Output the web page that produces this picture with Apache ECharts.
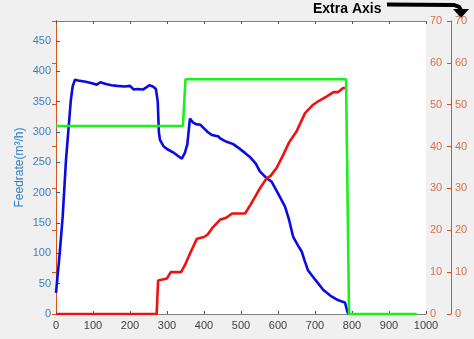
<!DOCTYPE html>
<html>
<head>
<meta charset="utf-8">
<script src="https://cdn.jsdelivr.net/npm/echarts@6/dist/echarts.min.js"></script>
<style>
html,body{margin:0;padding:0;background:#F0F0F0;}
#c{width:474px;height:339px;}
</style>
</head>
<body>
<div id="c"></div>
<script>
// x-axis ticks
var xTicks = [0, 100, 200, 300, 400, 500, 600, 700, 800, 900, 1000];

// Blue: Feedrate (left axis)
var blueX = [0, 10, 18, 27, 40, 45, 51, 60, 80, 100, 110, 120, 135, 150, 165, 185, 200, 210, 220, 235, 245, 252, 262, 270, 275, 278, 281, 290, 300, 320, 340, 348, 355, 362, 370, 378, 390, 400, 410, 421, 430, 438, 445, 457, 465, 479, 495, 510, 524, 540, 551, 569, 583, 600, 619, 630, 641, 655, 664, 672, 681, 700, 722, 742, 762, 775, 781, 787, 790];
var blueY = [35, 100, 160, 254, 352, 375, 386, 385, 383, 380, 378, 382, 379, 377, 376, 375, 376, 370, 371, 370, 374, 377, 375, 371, 350, 300, 287, 277, 272, 265, 256, 265, 280, 322, 316, 313, 312, 306, 300, 295, 294, 293, 289, 285, 283, 280, 273, 266, 259, 248, 235, 224, 218, 199, 177, 155, 127, 112, 103, 88, 72, 57, 40, 30, 23, 20, 19, 5, 0];

// Green (left axis)
var greenX = [0, 343, 350, 784, 792, 975];
var greenY = [310, 310, 387, 387, 0, 0];

// Red (right axis)
var redX = [0, 272, 276, 280, 300, 310, 338, 350, 365, 381, 400, 410, 422, 443, 460, 476, 511, 525, 538, 551, 569, 580, 597, 614, 630, 650, 673, 695, 712, 732, 750, 762, 776, 785];
var redY = [0, 0, 8, 8, 8.5, 10, 10, 12, 15, 18, 18.4, 19, 20.5, 22.5, 23, 24, 24, 26, 28, 30, 32.4, 33, 35, 38, 41, 43.6, 48, 50, 51, 52, 53, 53, 54, 54];

// Axis ranges
var leftMax = 483;
var rightMax = 70;

function zip(xs, ys) { return xs.map(function (x, i) { return [x, ys[i]]; }); }

var FONT = 'Liberation Sans, Arial, sans-serif';
var BLUE_AX = '#0072BD', ORANGE = '#D95319', GRAY = '#808080';

var chart = echarts.init(document.getElementById('c'));
var rightAxis = function (offset) {
  return {
    type: 'value', position: 'right', offset: offset, min: 0, max: rightMax, interval: 10,
    axisLine: { show: true, lineStyle: { color: ORANGE, width: 1 } },
    axisTick: { show: true, inside: true, length: 4, lineStyle: { color: ORANGE } },
    axisLabel: { color: '#D9704A', fontSize: 11, fontFamily: FONT, margin: 4 },
    splitLine: { show: false }
  };
};
chart.setOption({
  backgroundColor: '#F0F0F0',
  animation: false,
  grid: { left: 56, right: 48, top: 21, bottom: 25, show: true, backgroundColor: '#FFFFFF', borderWidth: 0 },
  xAxis: [{
    type: 'value', min: xTicks[0], max: xTicks[xTicks.length - 1], interval: 100, position: 'bottom',
    axisLine: { show: true, lineStyle: { color: GRAY, width: 1 } },
    axisTick: { show: true, inside: true, length: 3, lineStyle: { color: '#555' } },
    axisLabel: { color: '#404040', fontSize: 11, fontFamily: FONT, margin: 6, formatter: function (v) { return String(v); } },
    splitLine: { show: false }
  }, {
    type: 'value', min: xTicks[0], max: xTicks[xTicks.length - 1], interval: 100, position: 'top',
    axisLine: { show: true, onZero: false, lineStyle: { color: GRAY, width: 1 } },
    axisTick: { show: true, inside: true, length: 3, lineStyle: { color: '#555' } },
    axisLabel: { show: false },
    splitLine: { show: false }
  }],
  yAxis: [{
    type: 'value', position: 'left', min: 0, max: leftMax, interval: 50,
    name: 'Feedrate(m³/h)', nameLocation: 'middle', nameGap: 30, nameMoveOverlap: false,
    nameTextStyle: { color: '#2F7EC4', fontSize: 12, fontFamily: FONT },
    axisLine: { show: true, lineStyle: { color: BLUE_AX, width: 1 } },
    axisTick: { show: true, inside: true, length: 4, lineStyle: { color: BLUE_AX } },
    axisLabel: { color: '#3A7FC1', fontSize: 11, fontFamily: FONT, margin: 5, showMaxLabel: false },
    splitLine: { show: false }
  }, rightAxis(0), rightAxis(25)],
  graphic: [
    { type: 'text', left: 313, top: 2, style: { text: 'Extra Axis', font: 'bold 14px ' + FONT, fill: '#000' } },
    { type: 'polyline', shape: { points: [[387, 4.5], [454, 5], [459, 7], [461, 10]] }, style: { stroke: '#000', lineWidth: 4, fill: null } },
    { type: 'polygon', shape: { points: [[453, 9], [469, 9], [461, 18]] }, style: { fill: '#000' } }
  ],
  series: [{
    type: 'line', xAxisIndex: 0, yAxisIndex: 0, data: zip(blueX, blueY), showSymbol: false, symbol: 'none',
    lineStyle: { color: '#0A0AE6', width: 2.6 }
  }, {
    type: 'line', xAxisIndex: 0, yAxisIndex: 1, data: zip(redX, redY), showSymbol: false, symbol: 'none',
    lineStyle: { color: '#F01010', width: 2.6 }
  }, {
    type: 'line', xAxisIndex: 0, yAxisIndex: 0, data: zip(greenX, greenY), showSymbol: false, symbol: 'none',
    lineStyle: { color: '#1CF01C', width: 2.6 }
  }]
});
</script>
</body>
</html>
